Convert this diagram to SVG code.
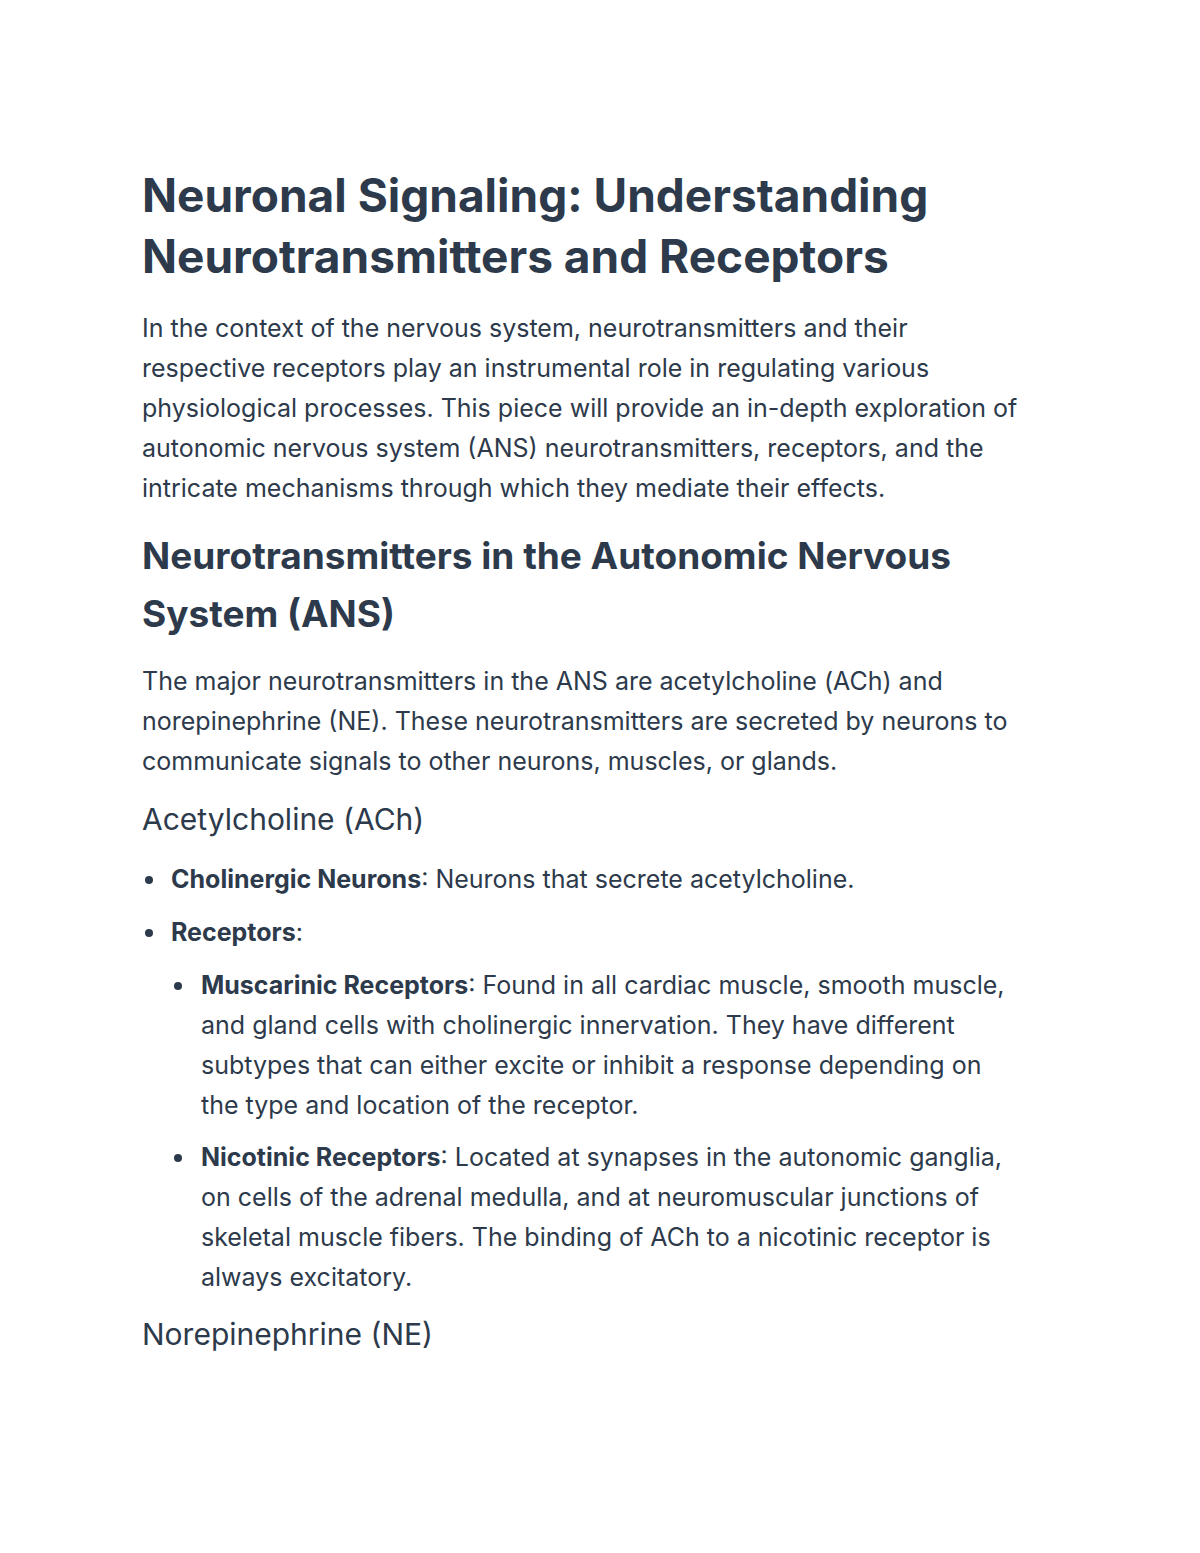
<svg xmlns="http://www.w3.org/2000/svg" width="1200" height="1553" viewBox="0 0 1200 1553">
<style>
text{font-family:Inter,"Noto Sans",sans-serif;fill:#2d3a4b}
.t{font-size:46px;font-weight:700}
.h2{font-size:37px;font-weight:700}
.h3{font-size:30px;font-weight:400}
.p{font-size:25px}
.b{font-weight:700}
</style>
<rect width="1200" height="1553" fill="#fff"/>
<text class="t" x="142" y="212">Neuronal Signaling: Understanding</text>
<text class="t" x="142" y="273">Neurotransmitters and Receptors</text>
<text class="p" x="142" y="337">In the context of the nervous system, neurotransmitters and their</text>
<text class="p" x="142" y="377">respective receptors play an instrumental role in regulating various</text>
<text class="p" x="142" y="417">physiological processes. This piece will provide an in-depth exploration of</text>
<text class="p" x="142" y="457">autonomic nervous system (ANS) neurotransmitters, receptors, and the</text>
<text class="p" x="142" y="497">intricate mechanisms through which they mediate their effects.</text>
<text class="h2" x="142" y="569">Neurotransmitters in the Autonomic Nervous</text>
<text class="h2" x="142" y="627">System (ANS)</text>
<text class="p" x="142" y="690">The major neurotransmitters in the ANS are acetylcholine (ACh) and</text>
<text class="p" x="142" y="730">norepinephrine (NE). These neurotransmitters are secreted by neurons to</text>
<text class="p" x="142" y="770">communicate signals to other neurons, muscles, or glands.</text>
<text class="h3" x="142" y="830">Acetylcholine (ACh)</text>
<g fill="#2d3a4b">
<circle cx="149" cy="880" r="4"/><circle cx="149" cy="933" r="4"/>
<circle cx="178" cy="986" r="4"/><circle cx="178" cy="1158" r="4"/>
</g>
<text class="p" x="171" y="888"><tspan class="b">Cholinergic Neurons</tspan>: Neurons that secrete acetylcholine.</text>
<text class="p" x="171" y="941"><tspan class="b">Receptors</tspan>:</text>
<text class="p" x="201" y="994"><tspan class="b">Muscarinic Receptors</tspan>: Found in all cardiac muscle, smooth muscle,</text>
<text class="p" x="201" y="1034">and gland cells with cholinergic innervation. They have different</text>
<text class="p" x="201" y="1074">subtypes that can either excite or inhibit a response depending on</text>
<text class="p" x="201" y="1114">the type and location of the receptor.</text>
<text class="p" x="201" y="1166"><tspan class="b">Nicotinic Receptors</tspan>: Located at synapses in the autonomic ganglia,</text>
<text class="p" x="201" y="1206">on cells of the adrenal medulla, and at neuromuscular junctions of</text>
<text class="p" x="201" y="1246">skeletal muscle fibers. The binding of ACh to a nicotinic receptor is</text>
<text class="p" x="201" y="1286">always excitatory.</text>
<text class="h3" x="142" y="1345">Norepinephrine (NE)</text>
</svg>
